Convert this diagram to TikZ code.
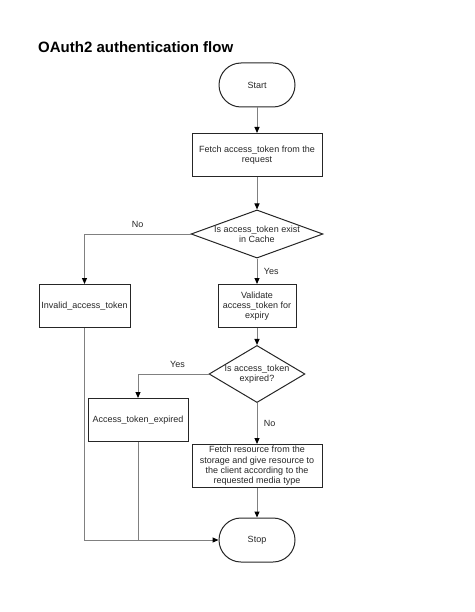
\documentclass[tikz,border=0pt]{standalone}
\usepackage{fontspec}
\setmainfont{Liberation Sans}
\usetikzlibrary{shapes.geometric,shapes.misc,arrows.meta}

\tikzset{
  boite/.style={draw=black!85, line width=1pt, align=center, inner sep=1pt,
    font=\fontsize{9}{10.3}\selectfont, text=black!85, minimum height=43pt},
  terminal/.style={boite, rounded rectangle, minimum width=78pt, minimum height=44pt},
  test/.style={boite, diamond, inner sep=0pt, minimum height=0pt},
  fleche/.style={draw=black!50, line width=1pt, -{Triangle[length=6pt,width=5pt,color=black]}},
  etiquette/.style={font=\fontsize{9}{10.3}\selectfont, text=black!85},
}

\begin{document}
\begin{tikzpicture}[x=1pt,y=-1pt]
	\useasboundingbox (0,0) rectangle (474,612);
	% Titre
	\node[anchor=west, inner sep=0pt, font=\fontsize{15}{18}\selectfont\bfseries] (titre) at (38,47) {OAuth2 authentication flow};

	% Définition des noeuds
	\node[terminal] (start) at (257,85) {Start};
	\node[boite, minimum width=130pt] (fetch) at (257,155) {Fetch access\_token from the\\request};
	\node[test, aspect=2.74] (cache) at (257,234) {Is access\_token exist\\in Cache};
	\node[boite, minimum width=91pt] (invalid) at (84.5,306) {Invalid\_access\_token};
	\node[boite, minimum width=78pt] (validate) at (257,306) {Validate\\access\_token for\\expiry};
	\node[test, aspect=1.68] (expired) at (257,374) {Is access\_token\\expired?};
	\node[boite, minimum width=100pt] (expiredbox) at (138,420) {Access\_token\_expired};
	\node[boite, minimum width=130pt] (resource) at (257,466) {Fetch resource from the\\storage and give resource to\\the client according to the\\requested media type};
	\node[terminal] (stop) at (257,540) {Stop};
	\coordinate (jonction) at (expiredbox.south |- stop.west);

	% Définition des flèches
	\draw[fleche] (start) -- (fetch);
	\draw[fleche] (fetch) -- (cache);
	\draw[fleche] (cache.west) -| node[etiquette, pos=0.25, above=3pt]{No} (invalid.north);
	\draw[fleche] (cache) -- node[etiquette, right=3pt]{Yes} (validate);
	\draw[fleche] (validate) -- (expired);
	\draw[fleche] (expired.west) -| node[etiquette, pos=0.22, above=3pt]{Yes} (expiredbox.north);
	\draw[fleche] (expired) -- node[etiquette, right=3pt]{No} (resource);
	\draw[fleche] (resource) -- (stop);
	\draw[fleche] (invalid.south) |- (stop.west);
	\draw[draw=black!50, line width=1pt] (expiredbox.south) -- (jonction);
\end{tikzpicture}
\end{document}
